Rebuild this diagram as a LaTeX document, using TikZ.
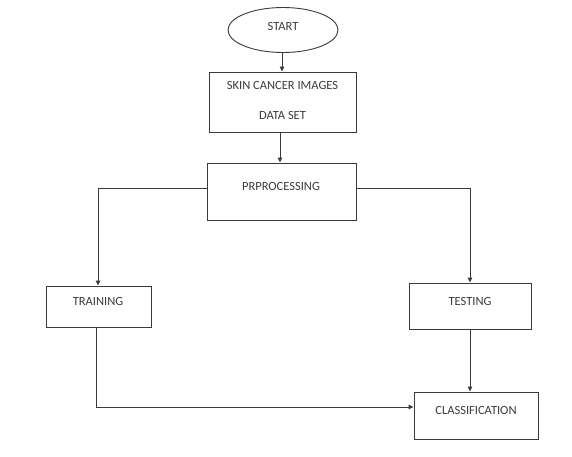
\documentclass[tikz,border=0pt]{standalone}
\usepackage{fontspec}
\setmainfont{Carlito}
\usetikzlibrary{arrows.meta,shapes.geometric}
\definecolor{ln}{HTML}{3A3A3A}
\definecolor{tx}{HTML}{3C3C3C}
\begin{document}
\begin{tikzpicture}[x=1pt,y=-1pt,
  box/.style={draw=ln,line width=0.9pt,rectangle,inner sep=0pt},
  lbl/.style={text=tx,font=\fontsize{12.5}{14}\selectfont,inner sep=0pt},
  conn/.style={draw=ln,line width=0.9pt,-{Triangle[length=5pt,width=4.5pt]}}]
\useasboundingbox[fill=white] (0,0) rectangle (572,456);
% shapes
\node[box,ellipse,minimum width=110pt,minimum height=45pt] (start) at (283,30) {};
\node[box,minimum width=147pt,minimum height=60pt] (data) at (282.5,102) {};
\node[box,minimum width=149pt,minimum height=57pt] (pre) at (281.5,191.5) {};
\node[box,minimum width=105pt,minimum height=41pt] (train) at (98.5,306.5) {};
\node[box,minimum width=122pt,minimum height=46pt] (test) at (470,306) {};
\node[box,minimum width=124pt,minimum height=47pt] (cls) at (476,415.5) {};
% labels
\node[lbl] (tstart) at (283,26) {START};
\node[lbl] (tdata1) at (282.5,85) {SKIN CANCER IMAGES};
\node[lbl] (tdata2) at (282.5,115) {DATA SET};
\node[lbl] (tpre) at (281,186) {PRPROCESSING};
\node[lbl] (ttrain) at (98,301) {TRAINING};
\node[lbl] (ttest) at (470,301) {TESTING};
\node[lbl] (tcls) at (476,410) {CLASSIFICATION};
% coordinates
\coordinate (pl) at (pre.west |- 0,188);
\coordinate (pr) at (pre.east |- 0,188);
\coordinate (lt) at (98,188);
\coordinate (rt) at (470,188);
\coordinate (tb) at (96,327);
\coordinate (bl) at (96,407);
\coordinate (cl) at (cls.west |- 0,407);
% connectors
\draw[conn] (start.south -| 282,0) -- (data.north -| 282,0);
\draw[conn] (data.south -| 280,0) -- (pre.north -| 280,0);
\draw[conn] (pl) -- (lt) -- (train.north -| lt);
\draw[conn] (pr) -- (rt) -- (test.north -| rt);
\draw[conn] (test.south) -- (cls.north -| test.south);
\draw[conn] (tb) -- (bl) -- (cl);
\end{tikzpicture}
\end{document}
